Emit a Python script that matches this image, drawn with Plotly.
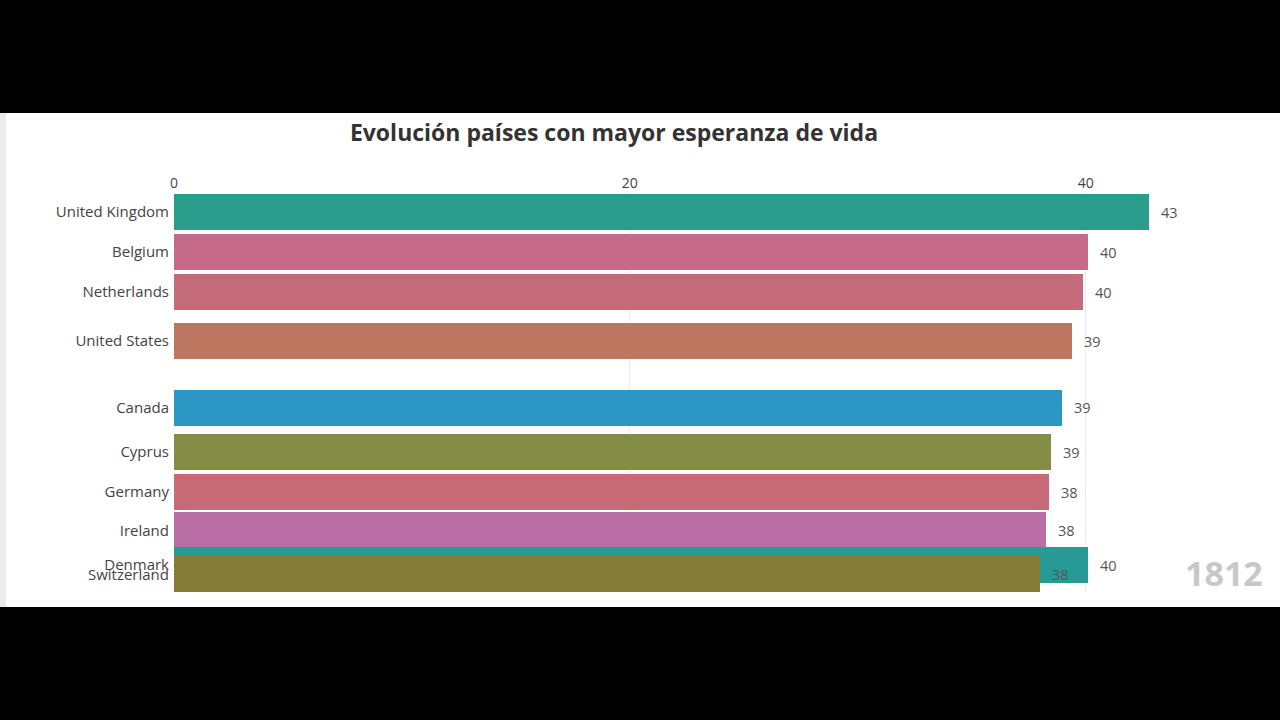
import plotly.graph_objects as go

countries = ["United Kingdom", "Belgium", "Netherlands", "United States", "Canada",
             "Cyprus", "Germany", "Ireland", "Denmark", "Switzerland"]
values = [42.76, 40.09, 39.87, 39.39, 38.95, 38.46, 38.38, 38.25, 40.09, 37.98]
value_labels = ["43", "40", "40", "39", "39", "39", "38", "38", "40", "38"]
ranks = [1.0, 2.0, 3.0, 4.23, 5.89, 7.0, 8.0, 8.96, 9.83, 10.06]
colors = ["#2a9d8c", "#c66a89", "#c46c79", "#bd765f", "#2a97c4",
          "#848d45", "#c96a77", "#b96ea6", "#289a96", "#857c38"]
year_label = "1812"
title_text = "Evolución países con mayor esperanza de vida"
x_ticks = [0, 20, 40]

L, R, T, B = 174, 28, 192, 128
pw = 1280 - L - R
ph = 720 - T - B
def px_x(p):
    return (p - L) / pw
def px_y(p):
    return (720 - B - p) / ph

fig = go.Figure()
fig.add_trace(go.Bar(
    x=values, y=ranks, orientation="h", width=0.9,
    marker=dict(color=colors, line=dict(width=0)),
    hoverinfo="skip", showlegend=False,
))

annotations = []
for v, r, t in zip(values, ranks, value_labels):
    annotations.append(dict(x=v, y=r, xref="x", yref="y", text=t, showarrow=False,
                            xanchor="left", yanchor="middle", xshift=10,
                            font=dict(family="Open Sans", size=14.5, color="#555555")))
annotations.append(dict(x=px_x(1265), y=px_y(573), xref="paper", yref="paper",
                        text="<b>" + year_label + "</b>",
                        showarrow=False, xanchor="right", yanchor="middle",
                        font=dict(family="Open Sans", size=34, color="#c8c8c8")))

fig.update_layout(
    width=1280, height=720,
    margin=dict(l=L, r=R, t=T, b=B, pad=0),
    paper_bgcolor="#000000",
    plot_bgcolor="#ffffff",
    title=dict(text="<b>" + title_text + "</b>", x=614 / 1280, xanchor="center",
               y=1 - 133 / 720, yanchor="middle", xref="container", yref="container",
               font=dict(family="Open Sans", size=23, color="#333333")),
    xaxis=dict(side="top", range=[0, 47.3], tickvals=x_ticks, ticktext=[str(t) for t in x_ticks],
               showgrid=True, gridcolor="#ececec", gridwidth=1, zeroline=False,
               showline=False, ticks="", tickfont=dict(family="Open Sans", size=14, color="#444444")),
    yaxis=dict(range=[10.5, 0.5], tickvals=ranks, ticktext=countries, showgrid=False,
               zeroline=False, showline=False, ticks="", ticklabelstandoff=4,
               tickfont=dict(family="Open Sans", size=15, color="#444444")),
    annotations=annotations,
    shapes=[
        dict(type="rect", xref="paper", yref="paper", layer="below",
             x0=px_x(0), x1=px_x(1280), y0=px_y(607), y1=px_y(113),
             fillcolor="#ffffff", line=dict(width=0)),
        dict(type="rect", xref="paper", yref="paper", layer="below",
             x0=px_x(0), x1=px_x(6), y0=px_y(607), y1=px_y(113),
             fillcolor="#ececec", line=dict(width=0)),
    ],
    bargap=0,
)

fig.write_html("out.html", config={"displayModeBar": False},
               post_script="document.body.style.margin='0';document.body.style.background='#000';document.body.style.overflow='hidden';")
